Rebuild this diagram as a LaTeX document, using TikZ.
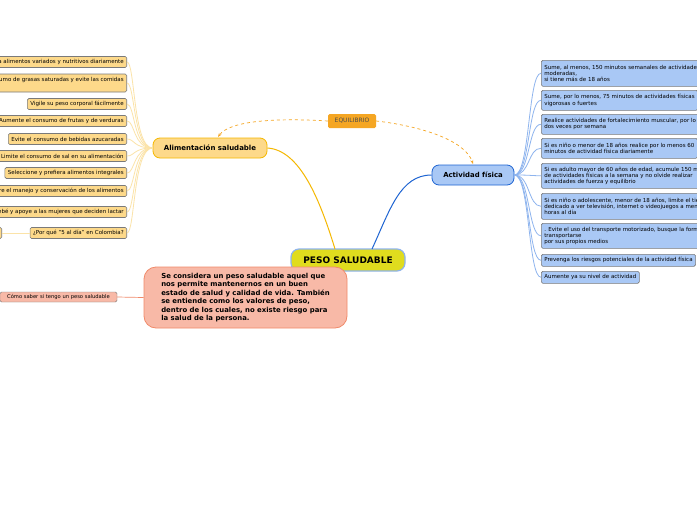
\documentclass[tikz,border=0pt]{standalone}
\usepackage{fontspec}
\setmainfont{DejaVu Sans}
\usetikzlibrary{arrows.meta}
\definecolor{yfill}{HTML}{FDD98A}
\definecolor{ybord}{HTML}{F5B800}
\definecolor{bfill}{HTML}{A9C8F5}
\definecolor{bbord}{HTML}{1E64D2}
\definecolor{pfill}{HTML}{F8B9A7}
\definecolor{pbord}{HTML}{F08A6A}
\definecolor{eq}{HTML}{F5A623}
\definecolor{cfill}{HTML}{E0DC1E}
\definecolor{lgray}{HTML}{7A7A7A}
\definecolor{ylink}{HTML}{FBE3A8}
\definecolor{blink}{HTML}{8EB4EE}
\tikzset{
 leafL/.style={draw=lgray,fill=yfill,rounded corners=1.5pt,anchor=east,inner xsep=3pt,inner ysep=1pt,minimum height=11pt,font=\fontsize{5.5}{6.3}\selectfont,align=left,line width=0.6pt},
 leafR/.style={draw=lgray,fill=bfill,rounded corners=1.5pt,anchor=north west,inner xsep=3pt,inner ysep=1.5pt,font=\fontsize{5.5}{6.3}\selectfont,align=left,line width=0.6pt},
 ylk/.style={draw=ylink,line width=0.8pt},
 blk/.style={draw=blink,line width=0.8pt},
}
\begin{document}
\begin{tikzpicture}[x=1pt,y=-1pt]
\useasboundingbox (0,0) rectangle (697,520);
\fill[white] (0,0) rectangle (697,520);
% central
\node[draw=blink,line width=1.2pt,fill=cfill,rounded corners=8pt,minimum width=114pt,minimum height=22pt,font=\bfseries\fontsize{9}{10}\selectfont] (c) at (348,260) {PESO SALUDABLE};
\node[draw=ybord,line width=0.8pt,fill=yfill,rounded corners=7pt,minimum width=114pt,minimum height=20pt,font=\bfseries\fontsize{7}{8}\selectfont] (a) at (210,148) {Alimentación saludable};
\node[draw=bbord,line width=0.8pt,fill=bfill,rounded corners=7pt,minimum width=82pt,minimum height=20pt,font=\bfseries\fontsize{6.9}{8}\selectfont] (f) at (473,175) {Actividad física};
\node[fill=eq,rounded corners=1.5pt,minimum width=48pt,minimum height=14pt,font=\fontsize{6}{7}\selectfont,text=black!70] (e) at (352,121) {EQUILIBRIO};
% yellow/blue branches
\draw[draw=ybord,line width=1pt] (a.east) .. controls (300,150) and (320,200) .. (335,249);
\draw[draw=bbord,line width=1pt] (372,249) .. controls (390,210) and (400,175) .. (f.west);
% dashed
\draw[eq,dashed,line width=0.7pt,-{Stealth[length=4pt]}] (e.west) .. controls (280,118) and (230,120) .. (218,137);
\draw[eq,dashed,line width=0.7pt,-{Stealth[length=4pt]}] (e.east) .. controls (420,126) and (465,140) .. (473,164);
% left leaves
\foreach \n/\y/\t in {
 l1/62/{Consuma alimentos variados y nutritivos diariamente},
 l3/104/{Vigile su peso corporal fácilmente},
 l4/121/{Aumente el consumo de frutas y de verduras},
 l5/139/{Evite el consumo de bebidas azucaradas},
 l6/156/{Limite el consumo de sal en su alimentación},
 l7/173/{Seleccione y prefiera alimentos integrales},
 l8/191/{Mejore el manejo y conservación de los alimentos},
 l9/212/{Amamante a su bebé y apoye a las mujeres que deciden lactar},
 l10/233/{¿Por qué "5 al día" en Colombia?}}{
 \node[leafL] (\n) at (127,\y) {\t};
 \draw[ylk] (\n.east) .. controls (135,\y) and (133,148) .. (a.west);
}
\node[leafL,minimum height=18pt] (l2) at (127,83) {Modere el consumo de grasas saturadas y evite las comidas\\rápidas};
\draw[ylk] (l2.east) .. controls (135,83) and (133,148) .. (a.west);
\node[leafL,minimum width=20pt] (l11) at (2,233) {};
\draw[ylk] (l11.east) -- (l10.west);
% right leaves
\foreach \n/\y/\h/\t in {
 r1/60/26/{Sume, al menos, 150 minutos semanales de actividades físicas\\moderadas,\\si tiene más de 18 años},
 r2/90/20/{Sume, por lo menos, 75 minutos de actividades físicas\\vigorosas o fuertes},
 r3/114/20/{Realice actividades de fortalecimiento muscular, por lo menos\\dos veces por semana},
 r4/138/20/{Si es niño o menor de 18 años realice por lo menos 60\\minutos de actividad física diariamente},
 r5/163/25/{Si es adulto mayor de 60 años de edad, acumule 150 minutos\\de actividades físicas a la semana y no olvide realizar\\actividades de fuerza y equilibrio},
 r6/193/26/{Si es niño o adolescente,  menor de 18 años, limite el tiempo\\dedicado a ver televisión, internet o videojuegos a menos de dos\\horas al día},
 r7/223/25/{. Evite el uso del transporte motorizado, busque la forma de\\transportarse\\por sus propios medios},
 r8/254/12/{Prevenga los riesgos potenciales de la actividad física},
 r9/271/12/{Aumente ya su nivel de actividad}}{
 \node[leafR,minimum height=\h pt] (\n) at (541,\y) {\t};
 \draw[blk] (f.east) .. controls (530,175) and (528,\y+\h/2) .. (\n.west);
}
% description
\node[draw=pbord,line width=0.8pt,fill=pfill,rounded corners=12pt,minimum width=203pt,minimum height=61pt,font=\bfseries\fontsize{6.9}{8.4}\selectfont,align=left] (d) at (245.5,297.5) {Se considera un peso saludable  aquel que\\nos permite mantenernos en un buen\\estado de salud y calidad de vida.  También\\se entiende como  los valores de peso,\\dentro de los cuales, no existe riesgo para\\la salud de la persona.};
\node[draw=lgray,fill=pfill,rounded corners=1.5pt,minimum width=117pt,minimum height=10pt,inner sep=1pt,font=\fontsize{5.2}{6}\selectfont] (k) at (58.5,297) {Cómo saber si tengo un peso saludable};
\draw[draw=pbord,line width=0.7pt] (k.east) -- (d.west);
\end{tikzpicture}
\end{document}
